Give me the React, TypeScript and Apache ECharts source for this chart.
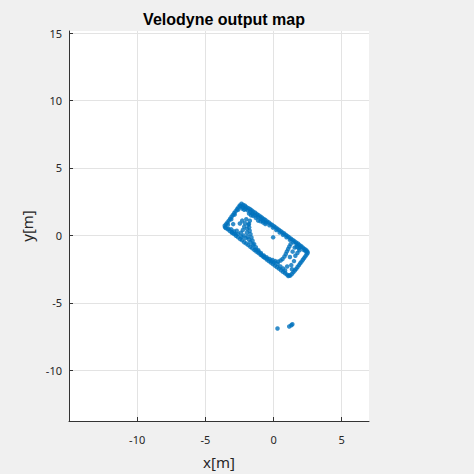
import React, { useEffect, useRef } from "react";
import * as echarts from "echarts";

// Scan points (x[m], y[m])
const topEdge: number[][] = [
  [-2.35, 2.35], [-2.22, 2.26], [-2.1, 2.2], [-1.98, 2.1], [-1.85, 2.02], [-1.72, 1.95], [-1.6, 1.86],
  [-1.48, 1.76], [-1.35, 1.68], [-1.22, 1.58], [-1.1, 1.5], [-0.97, 1.4], [-0.85, 1.32], [-0.72, 1.22],
  [-0.6, 1.14], [-0.47, 1.04], [-0.35, 0.96], [-0.22, 0.86], [-0.1, 0.78], [0.03, 0.68], [0.15, 0.6],
  [0.28, 0.5], [0.4, 0.41], [0.53, 0.32], [0.65, 0.22], [0.78, 0.14], [0.9, 0.04], [1.03, -0.05],
  [1.15, -0.14], [1.28, -0.24], [1.4, -0.33], [1.53, -0.42], [1.65, -0.52], [1.78, -0.6], [1.9, -0.7],
  [2.03, -0.8], [2.15, -0.9], [2.28, -1.0], [2.4, -1.1], [2.48, -1.2],
];
const topInner: number[][] = [
  [-2.42, 2.18], [-2.25, 2.08], [-2.05, 1.98], [-1.9, 1.86], [-1.7, 1.74], [-1.55, 1.62], [-1.35, 1.5],
  [-1.15, 1.36], [-0.95, 1.22], [-0.78, 1.08], [-0.55, 0.95], [-0.3, 0.76], [-0.05, 0.58], [0.2, 0.4],
  [0.45, 0.22], [0.7, 0.04], [0.95, -0.14], [1.2, -0.33], [1.45, -0.5], [1.7, -0.68], [1.95, -0.86],
  [2.2, -1.06], [2.35, -1.18], [-1.5, 1.46], [-1.3, 1.3], [-1.13, 1.1], [-0.95, 1.05], [-0.76, 0.96],
  [-0.6, 0.85], [-1.65, 1.5], [-1.8, 1.62], [-2.15, 1.9], [-2.3, 2.0],
];
const leftEdge: number[][] = [
  [-2.48, 2.22], [-2.58, 2.08], [-2.68, 1.94], [-2.78, 1.8], [-2.88, 1.66], [-2.98, 1.52], [-3.08, 1.38],
  [-3.18, 1.24], [-3.28, 1.1], [-3.38, 0.96], [-3.48, 0.84], [-3.58, 0.72], [-3.55, 0.6], [-2.6, 1.9],
  [-2.85, 1.55], [-3.1, 1.2], [-3.35, 0.8],
];
const leftFill: number[][] = [
  [-3.3, 0.5], [-3.1, 0.45], [-2.9, 0.3], [-2.7, 0.35], [-2.6, 0.1], [-2.4, 0.2], [-2.25, 0.4],
  [-2.15, 0.65], [-2.1, 0.9], [-2.0, 1.2], [-1.95, 0.5], [-2.2, 0.0], [-2.05, -0.2], [-1.9, -0.1],
  [-1.95, 0.2], [-2.35, -0.1], [-1.85, 0.8], [-2.3, 1.1], [-2.8, 0.1], [-3.05, 0.25],
  [-2.96, 0.84], [-2.47, 0.89], [-0.03, -0.14],
];
const innerCurve: number[][] = [
  [-1.74, 1.09], [-1.8, 0.85], [-1.79, 0.6], [-1.75, 0.35], [-1.69, 0.1], [-1.62, -0.15], [-1.54, -0.39],
  [-1.42, -0.64], [-1.3, -0.88], [-1.12, -1.1], [-0.93, -1.3], [-0.72, -1.48], [-0.52, -1.62],
  [-0.3, -1.74], [-0.08, -1.82], [0.13, -1.9], [0.34, -1.94], [0.52, -1.86], [0.66, -1.74], [0.8, -1.56],
  [0.9, -1.37], [0.98, -1.18], [1.07, -1.0], [1.16, -0.82], [1.25, -0.64],
];
const bottomEdge: number[][] = [
  [-3.5, 0.55], [-3.35, 0.45], [-3.2, 0.33], [-3.05, 0.2], [-2.9, 0.1], [-2.75, -0.02], [-2.6, -0.13],
  [-2.45, -0.26], [-2.3, -0.36], [-2.15, -0.5], [-2.0, -0.6], [-1.85, -0.72], [-1.7, -0.84], [-1.55, -0.96],
  [-1.4, -1.08], [-1.25, -1.2], [-1.1, -1.3], [-0.95, -1.43], [-0.8, -1.55], [-0.65, -1.66], [-0.5, -1.78],
  [-0.35, -1.9], [-0.2, -2.0], [-0.05, -2.12], [0.1, -2.24], [0.25, -2.35], [0.4, -2.46], [0.55, -2.58],
  [0.7, -2.7], [0.85, -2.8], [0.98, -2.9], [1.08, -3.0], [1.15, -2.95],
];
const lowerFill: number[][] = [
  [-1.5, -0.7], [-1.3, -1.05], [-1.1, -1.2], [-0.9, -1.4], [-0.7, -1.58], [-0.45, -1.72], [-0.2, -1.88],
  [0.05, -2.0], [0.3, -2.12], [0.5, -2.3], [0.7, -2.45], [0.85, -2.6], [-1.7, -0.5], [-1.8, -0.3],
];
const rightEdge: number[][] = [
  [2.5, -1.3], [2.42, -1.42], [2.33, -1.55], [2.24, -1.68], [2.15, -1.8], [2.05, -1.94], [1.96, -2.06],
  [1.86, -2.2], [1.76, -2.34], [1.66, -2.48], [1.56, -2.6], [1.45, -2.73], [1.34, -2.86], [1.22, -2.98],
];
const rightFill: number[][] = [
  [1.4, -1.2], [1.6, -1.5], [1.75, -1.3], [1.5, -1.9], [1.3, -2.2], [1.2, -1.6], [1.9, -1.1],
  [1.35, -2.5], [1.0, -2.3], [1.55, -0.9], [1.85, -0.95], [1.7, -0.85],
];
const farPoints: number[][] = [
  [0.29, -6.9], [1.15, -6.75], [1.38, -6.58], [1.3, -6.65],
];

const xTicks = [-10, -5, 0, 5];
const yTicks = [-10, -5, 0, 5, 10, 15];

const allPoints = [
  ...topEdge, ...topInner, ...leftEdge, ...leftFill, ...innerCurve,
  ...bottomEdge, ...lowerFill, ...rightEdge, ...rightFill, ...farPoints,
];

const tickFont = { fontFamily: "Noto Sans", fontSize: 11, color: "#262626" };

export default function App() {
  const ref = useRef<HTMLDivElement>(null);
  useEffect(() => {
    if (!ref.current) return;
    const chart = echarts.init(ref.current, undefined, { renderer: "svg" });
    chart.setOption({
      animation: false,
      backgroundColor: "#f0f0f0",
      title: {
        text: "Velodyne output map",
        left: 219,
        top: 6,
        textAlign: "center",
        textStyle: { fontFamily: "Liberation Sans", fontWeight: "bold", fontSize: 16, color: "#000" },
      },
      grid: {
        left: 69, right: 105, top: 31, bottom: 51.3,
        show: true, backgroundColor: "#ffffff", borderWidth: 0,
      },
      xAxis: {
        type: "value",
        min: -15, max: 7,
        position: "bottom",
        name: "x[m]",
        nameLocation: "middle",
        nameGap: 33,
        nameTextStyle: { fontFamily: "Noto Sans", fontSize: 15, color: "#262626" },
        axisLine: { show: true, onZero: false, lineStyle: { color: "#333", width: 1 } },
        axisTick: { show: true, inside: true, length: 4, customValues: xTicks, lineStyle: { color: "#333" } },
        axisLabel: { customValues: xTicks, margin: 13, ...tickFont },
        splitLine: { show: true, lineStyle: { color: "#e3e3e3", width: 1 } },
      },
      yAxis: {
        type: "value",
        min: -13.75, max: 15.15,
        position: "left",
        name: "y[m]",
        nameLocation: "middle",
        nameGap: 31,
        nameTextStyle: { fontFamily: "Noto Sans", fontSize: 15, color: "#262626" },
        axisLine: { show: true, onZero: false, lineStyle: { color: "#333", width: 1 } },
        axisTick: { show: true, inside: true, length: 4, customValues: yTicks, lineStyle: { color: "#333" } },
        axisLabel: { customValues: yTicks, margin: 7, ...tickFont },
        splitLine: { show: true, lineStyle: { color: "#e3e3e3", width: 1 } },
      },
      series: [
        {
          type: "scatter",
          data: allPoints,
          symbol: "circle",
          symbolSize: 4.5,
          itemStyle: { color: "#0072BD" },
          silent: true,
        },
      ],
    });
    return () => chart.dispose();
  }, []);
  return <div ref={ref} style={{ position: "fixed", left: 0, top: 0, width: 474, height: 474 }} />;
}
